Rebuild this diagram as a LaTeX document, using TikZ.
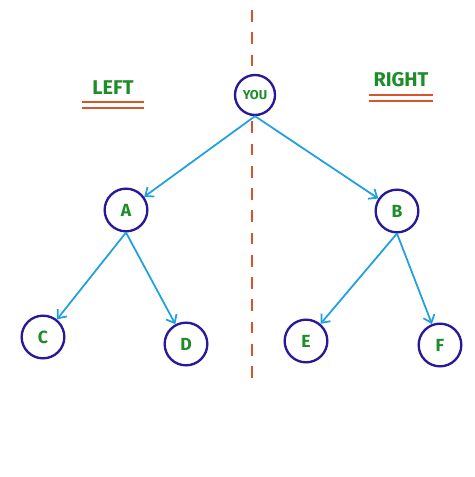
\documentclass[tikz,border=0pt]{standalone}
\usepackage{fontspec}
\setmainfont{Fira Sans}
\usetikzlibrary{arrows.meta}
\definecolor{ink}{RGB}{40,25,150}
\definecolor{leaf}{RGB}{30,140,40}
\definecolor{sky}{RGB}{30,160,225}
\definecolor{rust}{RGB}{215,85,40}
\tikzset{
	person/.style={circle, draw=ink, fill=white, line width=2pt, minimum size=1.28cm, inner sep=0pt, text=leaf, font=\fontsize{15}{17}\selectfont\bfseries},
	link/.style={draw=sky, line width=1.5pt, -{Straight Barb[length=6pt, width=10pt]}},
	side/.style={text=leaf, font=\fontsize{17}{19}\selectfont\bfseries}
}
\begin{document}
\begin{tikzpicture}[x=0.03cm, y=-0.03cm]
	\useasboundingbox (0,0) rectangle (474,477);
	\path [draw, rust, line width=1.2pt, dash pattern=on 10pt off 9pt] (252,10) -- (252,378);
	\node [person, minimum size=1.2cm, font=\fontsize{11}{13}\selectfont\bfseries] (you) at (255,95) {YOU};
	\node [person] (a) at (126,210) {A};
	\node [person] (b) at (397,211) {B};
	\node [person] (c) at (43,337) {C};
	\node [person] (d) at (186,344) {D};
	\node [person] (e) at (306,341) {E};
	\node [person] (f) at (440,345) {F};
	\node [side] (left) at (113,88) {LEFT};
	\node [side] (right) at (401,80) {RIGHT};
	\foreach \u/\w in {left/0.93, right/0.97} \path [draw, rust, line width=1.5pt] ([xshift=-\w cm, yshift=-0.1cm]\u.south) -- ++(2*\w cm,0) ([xshift=-\w cm, yshift=-0.28cm]\u.south) -- ++(2*\w cm,0);
	\draw [link] (you.south) -- (a);
	\draw [link] (you.south) -- (b);
	\draw [link] (a.south) -- (c);
	\draw [link] (a.south) -- (d);
	\draw [link] (b.south) -- (e);
	\draw [link] (b.south) -- (f);
\end{tikzpicture}
\end{document}
